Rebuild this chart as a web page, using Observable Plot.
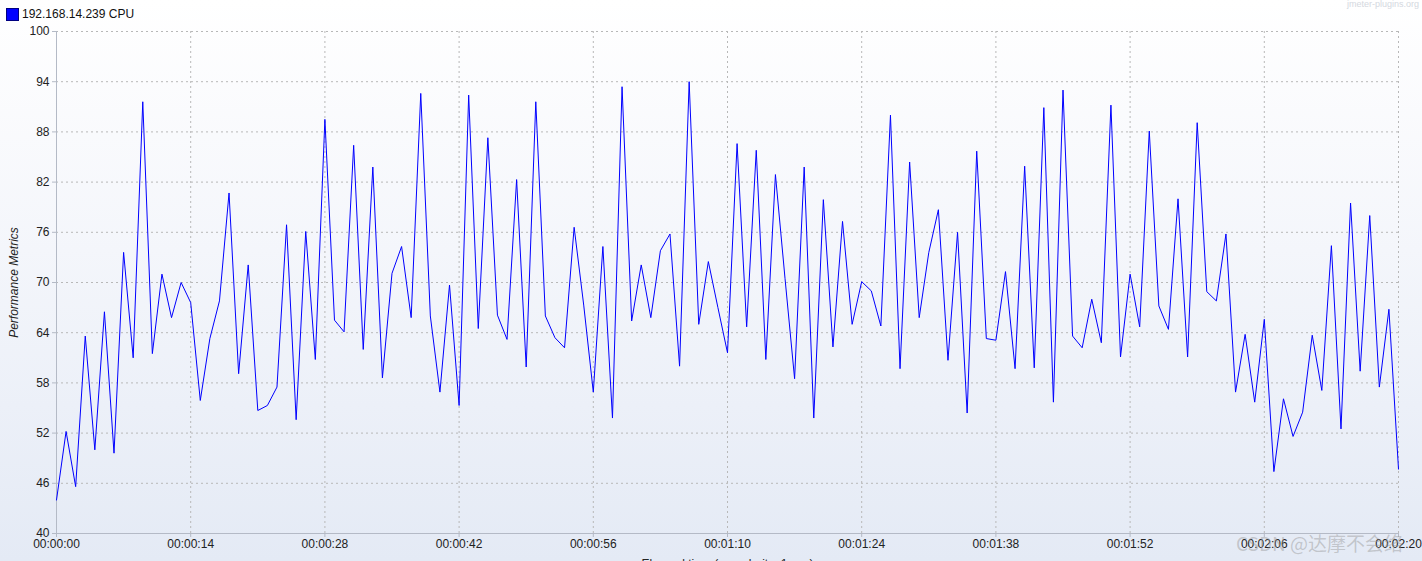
<!DOCTYPE html>
<html>
<head>
<meta charset="utf-8">
<script src="https://cdn.jsdelivr.net/npm/d3@7"></script>
<script src="https://cdn.jsdelivr.net/npm/@observablehq/plot@0.6"></script>
<style>
  html, body { margin: 0; padding: 0; }
  body {
    width: 1422px; height: 561px; overflow: hidden; position: relative;
    background: linear-gradient(to bottom, #ffffff 0px, #f4f6fb 250px, #e4eaf5 561px);
    font-family: "Liberation Sans", Arial, sans-serif;
  }
  #legend { position: absolute; left: 6px; top: 7px; height: 14px; display: flex; align-items: center; font-size: 12px; color: #111; }
  #legend .sw { width: 13px; height: 13px; background: #0000ff; border: 0.5px solid #000080; box-sizing: border-box; margin-right: 3px; }
  #brand { position: absolute; right: 3px; top: -1px; font-size: 9px; color: #d4d8e0; }
  #wm { position: absolute; left: 1236px; top: 529px; font-size: 19px; color: rgba(150,150,150,0.45); font-family: "Noto Sans CJK SC", sans-serif; white-space: nowrap; }
  #chart { position: absolute; left: 0; top: 24px; }
  #chart svg { background: transparent !important; overflow: visible; }
  g[aria-label="y-axis label"] text { font-style: italic; }
</style>
</head>
<body>
<div id="legend"><div class="sw"></div><span id="legendText"></span></div>
<div id="brand">jmeter-plugins.org</div>
<div id="chart"></div>
<div id="wm">CSDN @达摩不会络</div>
<script>
const seriesName = "192.168.14.239 CPU";
const yLabel = "Performance Metrics";
const xLabel = "Elapsed time (granularity: 1 sec)";
const yTicks = [40, 46, 52, 58, 64, 70, 76, 82, 88, 94, 100];
const xTicks = [0, 14, 28, 42, 56, 70, 84, 98, 112, 126, 140];
const cpu = [
  44.0, 52.2, 45.6, 63.6, 50.0, 66.5, 49.6, 73.6, 61.0, 91.6,
  61.5, 71.0, 65.8, 70.0, 67.6, 55.9, 63.3, 67.8, 80.7, 59.1,
  72.1, 54.7, 55.3, 57.5, 76.9, 53.6, 76.1, 60.8, 89.5, 65.5,
  64.1, 86.4, 62.0, 83.8, 58.6, 71.1, 74.3, 65.8, 92.6, 66.0,
  56.9, 69.7, 55.3, 92.4, 64.5, 87.3, 66.1, 63.2, 82.3, 59.9,
  91.6, 66.0, 63.4, 62.2, 76.6, 67.3, 56.9, 74.3, 53.8, 93.4,
  65.4, 72.1, 65.8, 73.8, 75.8, 60.0, 94.0, 65.0, 72.5, 67.0,
  61.6, 86.6, 64.7, 85.8, 60.8, 82.9, 70.5, 58.5, 83.8, 53.8,
  79.9, 62.3, 77.3, 65.0, 70.1, 69.0, 64.8, 90.0, 59.7, 84.4,
  65.8, 73.6, 78.7, 60.7, 76.0, 54.4, 85.7, 63.3, 63.1, 71.3,
  59.7, 83.9, 59.8, 90.9, 55.7, 93.0, 63.6, 62.2, 68.0, 62.8,
  91.2, 61.1, 71.0, 64.7, 88.1, 67.2, 64.4, 80.0, 61.1, 89.1,
  68.9, 67.8, 75.8, 56.9, 63.8, 55.7, 65.6, 47.4, 56.1, 51.6,
  54.5, 63.7, 57.1, 74.4, 52.5, 79.5, 59.4, 78.0, 57.5, 66.8,
  47.7
];
const data = cpu.map((v, i) => ({t: i, v}));
document.getElementById("legendText").textContent = seriesName;

const pad = n => String(n).padStart(2, "0");
const fmt = s => `${pad(Math.floor(s / 3600))}:${pad(Math.floor(s / 60) % 60)}:${pad(s % 60)}`;
const axisColor = "#b4bac6";
const gridColor = "#b8b8b8";

const chart = Plot.plot({
  width: 1422,
  height: 537,
  marginLeft: 56,
  marginRight: 24,
  marginTop: 7,
  marginBottom: 28,
  style: {fontFamily: "'Liberation Sans', Arial, sans-serif", fontSize: "12px", color: "#222", background: "transparent"},
  x: {domain: [0, 140]},
  y: {domain: [40, 100]},
  marks: [
    Plot.gridY(yTicks.filter(d => d !== 40), {stroke: gridColor, strokeOpacity: 1, strokeDasharray: "2,3"}),
    Plot.gridX(xTicks.filter(d => d !== 0), {stroke: gridColor, strokeOpacity: 1, strokeDasharray: "2,3"}),
    Plot.ruleY([40], {stroke: axisColor, strokeWidth: 1}),
    Plot.ruleX([0], {stroke: axisColor, strokeWidth: 1}),
    Plot.axisY({ticks: yTicks, tickSize: 4, tickPadding: 3, stroke: axisColor, label: yLabel, labelAnchor: "center", labelArrow: "none", labelOffset: 47, fill: "#222"}),
    Plot.axisX({ticks: xTicks, tickSize: 4, tickPadding: 2, stroke: axisColor, tickFormat: fmt, label: xLabel, labelAnchor: "center", labelArrow: "none", labelOffset: 34, fill: "#222"}),
    Plot.line(data, {x: "t", y: "v", stroke: "#0000ff", strokeWidth: 1})
  ]
});
document.getElementById("chart").appendChild(chart);
</script>
</body>
</html>
